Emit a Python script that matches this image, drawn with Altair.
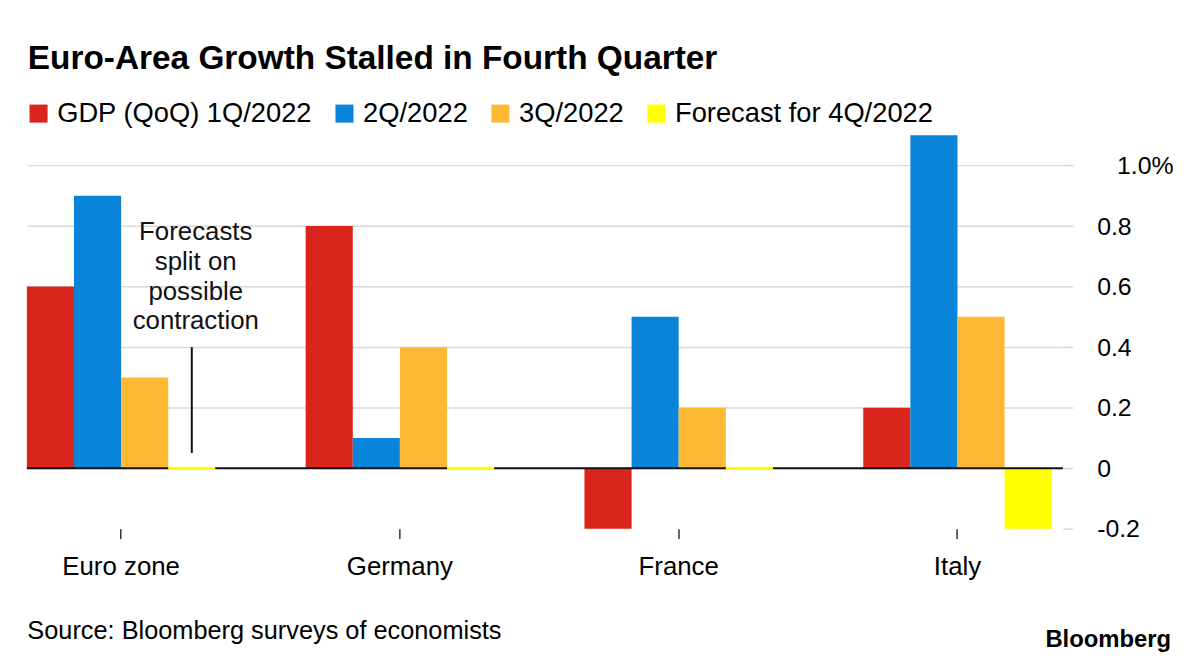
import altair as alt
import pandas as pd

title_text = "Euro-Area Growth Stalled in Fourth Quarter"
source_text = "Source: Bloomberg surveys of economists"
logo_text = "Bloomberg"
countries = ["Euro zone", "Germany", "France", "Italy"]
series = ["GDP (QoQ) 1Q/2022", "2Q/2022", "3Q/2022", "Forecast for 4Q/2022"]
colors = ["#DA251D", "#0A84D8", "#FDB932", "#FFFF00"]
q1 = [0.6, 0.8, -0.2, 0.2]
q2 = [0.9, 0.1, 0.5, 1.1]
q3 = [0.3, 0.4, 0.2, 0.5]
q4 = [0.0, 0.0, 0.0, -0.2]
y_ticks = [-0.2, 0.0, 0.2, 0.4, 0.6, 0.8, 1.0]
note_lines = ["Forecasts", "split on", "possible", "contraction"]
note_rule = [0.05, 0.4]
note_y = 0.823

rows = []
for s, vals in zip(series, [q1, q2, q3, q4]):
    for c, v in zip(countries, vals):
        rows.append({"country": c, "series": s, "value": v})
df = pd.DataFrame(rows)

FONT = "Liberation Sans"
W, H = 1043, 396

xscale = alt.Scale(domain=countries, paddingInner=0.324, paddingOuter=0.02, align=0, round=False)
yscale = alt.Scale(domain=[-0.2, 1.1], nice=False, zero=False)
cscale = alt.Scale(domain=series, range=colors)
oscale = alt.Scale(domain=series, paddingInner=0, paddingOuter=0, round=False)

x_enc = alt.X(
    "country:N", scale=xscale, sort=countries,
    axis=alt.Axis(
        title=source_text,
        titleFont=FONT, titleFontSize=25.5, titleFontWeight="normal", titleColor="#000",
        titleAnchor="start", titleAlign="left", titleX=0, titleY=103, titleBaseline="middle",
        labelFont=FONT, labelFontSize=26, labelColor="#000", labelPadding=15, labelAngle=0,
        domain=False, ticks=True, tickSize=10, tickColor="#333", tickWidth=1.5, grid=False,
    ),
)
y_enc = alt.Y(
    "value:Q", scale=yscale,
    axis=alt.Axis(
        orient="right", title=None, values=y_ticks,
        labelExpr="datum.value == 1 ? '1.0%' : (datum.value == 0 ? '0' : toString(datum.value))",
        labelFont=FONT, labelFontSize=25, labelColor="#000", labelAlign="left", labelBaseline="middle",
        labelPadding={"condition": {"test": "datum.value == 1", "value": 44}, "value": 24},
        domain=False, tickSize=10, tickColor="#d9d9d9", tickWidth=1.5,
        grid=True, gridColor="#d9d9d9", gridWidth=1.5,
        gridOpacity={"condition": {"test": "datum.value < 0", "value": 0}, "value": 1},
    ),
)

bars = alt.Chart(df).mark_bar().encode(
    x=x_enc,
    xOffset=alt.XOffset("series:N", scale=oscale, sort=series),
    y=y_enc,
    color=alt.Color(
        "series:N", scale=cscale, sort=series,
        legend=alt.Legend(
            title=None, orient="none", legendX=-2, legendY=-36, direction="horizontal",
            symbolType="square", symbolSize=330, symbolStrokeWidth=0, symbolOpacity=1,
            labelFont=FONT, labelFontSize=27.5, labelColor="#000", labelOffset=5,
            columnPadding=18, padding=0, labelLimit=400,
        ),
    ),
)

zero = alt.Chart(pd.DataFrame({"value": [0.0]})).mark_rule(color="#111", strokeWidth=2).encode(
    y=alt.Y("value:Q", scale=yscale), x=alt.value(0), x2=alt.value(W)
)

zero_bars = alt.Chart(df).transform_filter("datum.value == 0").mark_bar(strokeWidth=3).encode(
    x=alt.X("country:N", scale=xscale, sort=countries),
    xOffset=alt.XOffset("series:N", scale=oscale, sort=series),
    y=alt.Y("value:Q", scale=yscale),
    color=alt.Color("series:N", scale=cscale, sort=series, legend=None),
    stroke=alt.Stroke("series:N", scale=cscale, sort=series, legend=None),
)

note_df = pd.DataFrame({
    "country": [countries[0]], "series": [series[3]],
    "text": ["\n".join(note_lines)], "y": [note_y],
    "y1": [note_rule[0]], "y2": [note_rule[1]],
})
note_text = alt.Chart(note_df).mark_text(
    font=FONT, fontSize=26, align="center", baseline="top", lineBreak="\n", lineHeight=30,
    color="#111", dx=4,
).encode(
    x=alt.X("country:N", scale=xscale, sort=countries),
    xOffset=alt.XOffset("series:N", scale=oscale, sort=series),
    y=alt.Y("y:Q", scale=yscale),
    text="text:N",
)
note_rule_mark = alt.Chart(note_df).mark_rule(color="#111", strokeWidth=2).encode(
    x=alt.X("country:N", scale=xscale, sort=countries),
    xOffset=alt.XOffset("series:N", scale=oscale, sort=series),
    y=alt.Y("y1:Q", scale=yscale),
    y2="y2:Q",
)

title = alt.Chart(pd.DataFrame({"t": [title_text]})).mark_text(
    font=FONT, fontSize=33.6, fontWeight="bold", align="left", baseline="alphabetic", color="#000",
).encode(x=alt.value(1), y=alt.value(-67), text="t:N")

logo = alt.Chart(pd.DataFrame({"t": [logo_text]})).mark_text(
    font=FONT, fontSize=24, fontWeight="bold", align="right", baseline="middle", color="#000",
).encode(x=alt.value(1152), y=alt.value(508), text="t:N")

chart = alt.layer(bars, zero, zero_bars, note_rule_mark, note_text, title, logo).properties(
    width=W, height=H,
    background="white",
    autosize=alt.AutoSizeParams(type="none"),
    padding={"left": 19, "top": 126, "right": 130, "bottom": 127},
).resolve_scale(color="shared").configure_view(stroke="transparent", strokeWidth=0)

chart.save("out.html", embed_options={"renderer": "svg", "actions": False})
